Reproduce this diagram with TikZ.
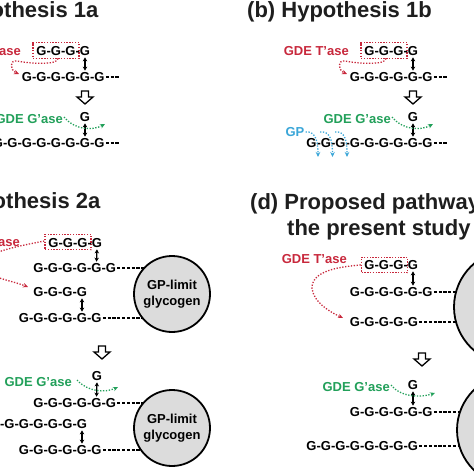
\documentclass[tikz,border=0pt]{standalone}
\usepackage{fontspec}
\setmainfont{Liberation Sans}
\usetikzlibrary{arrows.meta}
\definecolor{tred}{HTML}{C8283C}
\definecolor{ggreen}{HTML}{22A05A}
\definecolor{gpblue}{HTML}{3AA6D8}
\definecolor{cgray}{HTML}{DCDCDC}
\definecolor{ttl}{HTML}{1E1E1E}
\newcommand{\gchain}[4]{%
  \foreach \i in {1,...,#4}{\node[gl] (#1-\i) at ({#2+14.5*(\i-1)},#3) {G};}
  \foreach \i in {2,...,#4}{\node[gl] (#1-h\i) at ({#2+14.5*(\i-1)-7.25},#3) {-};}
}
\newcommand{\openarr}[3]{%
  \draw[line width=1.3pt,line join=miter,fill=white]
   ({#1-3.5},#2) -- ({#1+3.5},#2) -- ({#1+3.5},{#2+6}) -- ({#1+8},{#2+6}) -- (#1,#3)
   -- ({#1-8},{#2+6}) -- ({#1-3.5},{#2+6}) -- cycle;}
\tikzset{
  gl/.style={font=\bfseries\fontsize{13}{15}\selectfont, inner sep=0pt, text height=9.4pt, text depth=0pt},
  lbl/.style={font=\bfseries\fontsize{13}{15}\selectfont, inner sep=0pt, text height=9.4pt, text depth=0pt},
  ttlfont/.style={font=\bfseries\fontsize{22}{26}\selectfont, text=ttl, inner sep=0pt, anchor=west},
  rbox/.style={draw=tred, line width=1.4pt, dash pattern=on 1.4pt off 1.4pt, minimum width=46pt, minimum height=15.5pt, inner sep=0pt},
  rdot/.style={draw=tred, line width=1.3pt, dash pattern=on 1.3pt off 1.6pt, -{Stealth[length=5pt,width=4.5pt]}},
  gdot/.style={draw=ggreen, line width=1.3pt, dash pattern=on 1.3pt off 1.6pt, -{Stealth[length=5pt,width=4.5pt]}},
  bdot/.style={draw=gpblue, line width=1.3pt, dash pattern=on 1.3pt off 1.6pt, -{Stealth[length=5pt,width=4.5pt]}},
  dbl/.style={line width=1.3pt, {Stealth[length=4pt,width=4.5pt]}-{Stealth[length=4pt,width=4.5pt]}, shorten <=1.5pt, shorten >=1.5pt},
  tail/.style={line width=1.3pt, dash pattern=on 3.2pt off 1.6pt},
  glyc/.style={circle, draw, line width=1.8pt, fill=cgray, minimum size=76pt, inner sep=0pt, align=center, font=\bfseries\fontsize{13}{16}\selectfont},
}
\begin{document}
\begin{tikzpicture}[x=1pt,y=-1pt]
\useasboundingbox (0,0) rectangle (474,474);
\fill[white] (0,0) rectangle (474,474);
\clip (0,0) rectangle (474,474);

% ---------- (a) ----------
\node[ttlfont] (ta) at (-84,12) {(a) Hypothesis 1a};
\node[lbl,text=tred,anchor=east] (aT) at (21,51) {GDE T'ase};
\node[rbox] (abox) at (56,50.5) {};
\gchain{a0}{41.5}{51}{4}
\gchain{a1}{27}{77}{6}
\coordinate (a1e) at (119,77);
\draw[tail] ([xshift=1pt]a1-6.east) -- (a1e);
\draw[dbl] (a0-4.south) -- (a1-5.north);
\coordinate (ar0) at (58,58.5);
\coordinate (ar1) at (19,74);
\draw[rdot] (ar0) .. controls (58,65) and (32,64) .. (17,61) .. controls (9,60) and (10,70) .. (ar1);
\openarr{85}{91}{104}
\node[lbl,text=ggreen,anchor=east] (aGl) at (63,119) {GDE G'ase};
\node[gl] (aG) at (85,117) {G};
\gchain{a2}{-16.5}{143}{9}
\coordinate (a2e) at (119,143);
\draw[tail] ([xshift=1pt]a2-9.east) -- (a2e);
\draw[dbl] (aG.south) -- (a2-8.north);
\coordinate (age) at (105,124);
\draw[gdot] ([xshift=1pt,yshift=2pt]aGl.east) .. controls (75,130) and (92,131) .. (age);

% ---------- (b) ----------
\node[ttlfont] (tb) at (247,12) {(b) Hypothesis 1b};
\node[lbl,text=tred,anchor=east] (bT) at (349,51) {GDE T'ase};
\node[rbox] (bbox) at (384,50.5) {};
\gchain{b0}{369.5}{51}{4}
\gchain{b1}{355}{77}{6}
\coordinate (b1e) at (447,77);
\draw[tail] ([xshift=1pt]b1-6.east) -- (b1e);
\draw[dbl] (b0-4.south) -- (b1-5.north);
\coordinate (br0) at (386,58.5);
\coordinate (br1) at (347,74);
\draw[rdot] (br0) .. controls (386,65) and (360,64) .. (345,61) .. controls (337,60) and (338,70) .. (br1);
\openarr{413}{91}{104}
\node[lbl,text=ggreen,anchor=east] (bGl) at (391,119) {GDE G'ase};
\node[gl] (bG) at (413,117) {G};
\gchain{b2}{311.5}{143}{9}
\coordinate (b2e) at (447,143);
\draw[tail] ([xshift=1pt]b2-9.east) -- (b2e);
\draw[dbl] (bG.south) -- (b2-8.north);
\coordinate (bge) at (433,124);
\draw[gdot] ([xshift=1pt,yshift=2pt]bGl.east) .. controls (403,130) and (420,131) .. (bge);
\node[lbl,text=gpblue] (gp) at (295,132) {GP};
\coordinate (bp1) at (318,157);
\coordinate (bp2s) at (320,132);
\coordinate (bp2) at (332.5,157);
\coordinate (bp3s) at (335,132);
\coordinate (bp3) at (347,157);
\draw[bdot] ([xshift=1pt]gp.east) .. controls (314,131) and (318,138) .. (bp1);
\draw[bdot] (bp2s) .. controls (329,131) and (332.5,138) .. (bp2);
\draw[bdot] (bp3s) .. controls (344,131) and (347,138) .. (bp3);

% ---------- (c) ----------
\node[ttlfont] (tc) at (-82,203) {(c) Hypothesis 2a};
\node[lbl,text=tred,anchor=east] (cT) at (20,242) {GDE T'ase};
\node[rbox] (cbox) at (68,242) {};
\gchain{c0}{53.5}{243}{4}
\coordinate (cc1) at (172,294);
\gchain{c1}{38.5}{268}{6}
\gchain{c2}{38.5}{292}{4}
\gchain{c3}{24}{318}{6}
\draw[tail] ([xshift=1pt]c1-6.east) -- (cc1 |- c1-6.east);
\draw[tail] ([xshift=1pt]c3-6.east) -- (cc1 |- c3-6.east);
\node[glyc] (cg1) at (cc1) {GP-limit\\glycogen};
\draw[dbl] (c0-4.south) -- (c1-5.north);
\draw[dbl] (c2-4.south) -- (c3-5.north);
\coordinate (cr1) at (28,287);
\draw[rdot] ([yshift=1pt]cbox.west) .. controls (20,246) and (-18,252) .. (-18,266) .. controls (-18,276) and (10,280) .. (cr1);
\openarr{102}{346}{359}
\node[lbl,text=ggreen,anchor=east] (cGl) at (72,382) {GDE G'ase};
\node[gl] (cG) at (97,376) {G};
\coordinate (cc2) at (172,428);
\gchain{c4}{38.5}{403}{6}
\gchain{c5}{-5}{424}{7}
\gchain{c6}{24}{450}{6}
\draw[tail] ([xshift=1pt]c4-6.east) -- (cc2 |- c4-6.east);
\draw[tail] ([xshift=1pt]c6-6.east) -- (cc2 |- c6-6.east);
\node[glyc] (cg2) at (cc2) {GP-limit\\glycogen};
\draw[dbl] (cG.south) -- (c4-5.north);
\draw[dbl] (c5-7.south) -- (c6-5.north);
\coordinate (cge) at (118,387);
\draw[gdot] ([xshift=5pt,yshift=2pt]cGl.east) .. controls (88,392) and (105,393) .. (cge);

% ---------- (d) ----------
\node[ttlfont] (td1) at (250,204) {(d) Proposed pathway};
\node[ttlfont] (td2) at (287,230) {the present study};
\node[lbl,text=tred,anchor=east] (dT) at (347,259) {GDE T'ase};
\node[rbox] (dbox) at (384.5,265) {};
\gchain{d0}{369.5}{265}{4}
\coordinate (dc1) at (511,307);
\gchain{d1}{355}{292}{6}
\gchain{d2}{355}{322}{5}
\draw[tail] ([xshift=1pt]d1-6.east) -- (dc1 |- d1-6.east);
\draw[tail] ([xshift=1pt]d2-5.east) -- (dc1 |- d2-5.east);
\node[glyc,minimum size=114pt] (dg1) at (dc1) {GP-limit\\glycogen};
\draw[dbl] (d0-4.south) -- (d1-5.north);
\coordinate (dr1) at (343,318);
\draw[rdot] (dbox.west) .. controls (335,267) and (312,272) .. (312,288) .. controls (313,302) and (330,312) .. (dr1);
\openarr{422}{353}{366}
\node[lbl,text=ggreen,anchor=east] (dGl) at (390,387) {GDE G'ase};
\node[gl] (dG) at (413,385) {G};
\coordinate (dc2) at (513,430);
\gchain{d3}{355}{412}{6}
\gchain{d4}{311.5}{446}{8}
\draw[tail] ([xshift=1pt]d3-6.east) -- (dc2 |- d3-6.east);
\draw[tail] ([xshift=1pt]d4-8.east) -- (dc2 |- d4-8.east);
\node[glyc,minimum size=112pt] (dg2) at (dc2) {GP-limit\\glycogen};
\draw[dbl] (dG.south) -- (d3-5.north);
\coordinate (dge) at (435,393);
\draw[gdot] ([xshift=1pt,yshift=2pt]dGl.east) .. controls (400,397) and (420,398) .. (dge);
\end{tikzpicture}
\end{document}
